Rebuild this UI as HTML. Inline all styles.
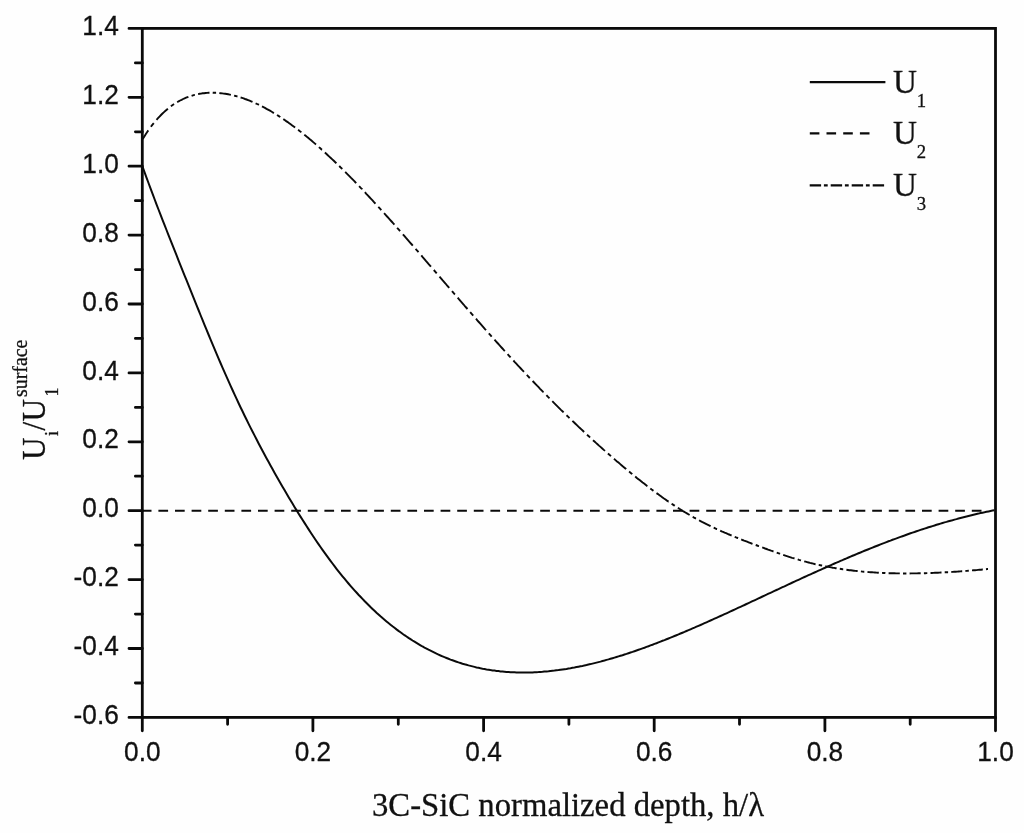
<!DOCTYPE html>
<html lang="en">
<head>
<meta charset="utf-8">
<title>3C-SiC normalized depth</title>
<style>
html,body{margin:0;padding:0;background:#fefefe;}
body{width:1024px;height:833px;overflow:hidden;}
svg{display:block;filter:blur(0.45px);}
.tick{font-family:"Liberation Sans",Arial,sans-serif;font-size:28.2px;fill:#111;stroke:#111;stroke-width:0.3px;}
.ser{font-family:"Liberation Serif","Times New Roman",serif;fill:#111;stroke:#111;stroke-width:0.3px;}
.ax{stroke:#0a0a0a;fill:none;}
</style>
</head>
<body>
<svg width="1024" height="833" viewBox="0 0 1024 833">
<rect width="1024" height="833" fill="#fefefe"/>
<path class="ax" stroke-width="2" d="M142.5 166.5 L144.5 172.1 L146.5 177.6 L148.5 183.0 L150.5 188.4 L152.5 193.7 L154.5 199.0 L156.5 204.3 L158.5 209.5 L160.5 214.6 L162.5 219.8 L164.5 224.9 L166.5 230.0 L168.5 235.1 L170.5 240.1 L172.5 245.2 L174.5 250.2 L176.5 255.2 L178.5 260.3 L180.5 265.3 L182.5 270.3 L184.5 275.3 L186.5 280.2 L188.5 285.2 L190.5 290.2 L192.5 295.2 L194.5 300.1 L196.5 305.1 L198.5 310.0 L200.5 315.0 L202.5 319.9 L204.5 324.8 L206.5 329.7 L208.5 334.5 L210.5 339.3 L212.5 344.1 L214.5 348.9 L216.5 353.6 L218.5 358.3 L220.5 363.0 L222.5 367.6 L224.5 372.2 L226.5 376.7 L228.5 381.2 L230.5 385.6 L232.5 390.0 L234.5 394.4 L236.5 398.7 L238.5 403.0 L240.5 407.2 L242.5 411.3 L244.5 415.5 L246.5 419.5 L248.5 423.6 L250.5 427.6 L252.5 431.5 L254.5 435.4 L256.5 439.3 L258.5 443.2 L260.5 447.0 L262.5 450.7 L264.5 454.5 L266.5 458.2 L268.5 461.8 L270.5 465.5 L272.5 469.1 L274.5 472.7 L276.5 476.2 L278.5 479.7 L280.5 483.2 L282.5 486.7 L284.5 490.1 L286.5 493.5 L288.5 496.9 L290.5 500.3 L292.5 503.6 L294.5 506.9 L296.5 510.1 L298.5 513.4 L300.5 516.6 L302.5 519.8 L304.5 522.9 L306.5 526.0 L308.5 529.1 L310.5 532.2 L312.5 535.2 L314.5 538.2 L316.5 541.2 L318.5 544.1 L320.5 547.0 L322.5 549.8 L324.5 552.6 L326.5 555.4 L328.5 558.2 L330.5 560.9 L332.5 563.5 L334.5 566.2 L336.5 568.8 L338.5 571.3 L340.5 573.8 L342.5 576.3 L344.5 578.7 L346.5 581.1 L348.5 583.5 L350.5 585.8 L352.5 588.1 L354.5 590.3 L356.5 592.5 L358.5 594.7 L360.5 596.8 L362.5 598.9 L364.5 601.0 L366.5 603.0 L368.5 605.0 L370.5 607.0 L372.5 608.9 L374.5 610.8 L376.5 612.7 L378.5 614.5 L380.5 616.3 L382.5 618.0 L384.5 619.7 L386.5 621.4 L388.5 623.1 L390.5 624.7 L392.5 626.3 L394.5 627.8 L396.5 629.4 L398.5 630.9 L400.5 632.3 L402.5 633.8 L404.5 635.2 L406.5 636.5 L408.5 637.9 L410.5 639.2 L412.5 640.5 L414.5 641.7 L416.5 642.9 L418.5 644.1 L420.5 645.3 L422.5 646.5 L424.5 647.6 L426.5 648.6 L428.5 649.7 L430.5 650.7 L432.5 651.7 L434.5 652.7 L436.5 653.7 L438.5 654.6 L440.5 655.5 L442.5 656.3 L444.5 657.2 L446.5 658.0 L448.5 658.8 L450.5 659.6 L452.5 660.3 L454.5 661.0 L456.5 661.7 L458.5 662.4 L460.5 663.0 L462.5 663.7 L464.5 664.3 L466.5 664.8 L468.5 665.4 L470.5 665.9 L472.5 666.4 L474.5 666.9 L476.5 667.4 L478.5 667.8 L480.5 668.3 L482.5 668.7 L484.5 669.0 L486.5 669.4 L488.5 669.7 L490.5 670.1 L492.5 670.4 L494.5 670.6 L496.5 670.9 L498.5 671.1 L500.5 671.4 L502.5 671.5 L504.5 671.7 L506.5 671.9 L508.5 672.0 L510.5 672.2 L512.5 672.3 L514.5 672.3 L516.5 672.4 L518.5 672.5 L520.5 672.5 L522.5 672.5 L524.5 672.5 L526.5 672.5 L528.5 672.5 L530.5 672.4 L532.5 672.4 L534.5 672.3 L536.5 672.2 L538.5 672.1 L540.5 671.9 L542.5 671.8 L544.5 671.6 L546.5 671.4 L548.5 671.3 L550.5 671.0 L552.5 670.8 L554.5 670.6 L556.5 670.3 L558.5 670.1 L560.5 669.8 L562.5 669.5 L564.5 669.2 L566.5 668.9 L568.5 668.5 L570.5 668.2 L572.5 667.8 L574.5 667.5 L576.5 667.1 L578.5 666.7 L580.5 666.3 L582.5 665.9 L584.5 665.4 L586.5 665.0 L588.5 664.5 L590.5 664.1 L592.5 663.6 L594.5 663.1 L596.5 662.6 L598.5 662.1 L600.5 661.6 L602.5 661.0 L604.5 660.5 L606.5 659.9 L608.5 659.4 L610.5 658.8 L612.5 658.2 L614.5 657.6 L616.5 657.0 L618.5 656.4 L620.5 655.8 L622.5 655.2 L624.5 654.5 L626.5 653.9 L628.5 653.2 L630.5 652.5 L632.5 651.9 L634.5 651.2 L636.5 650.5 L638.5 649.8 L640.5 649.1 L642.5 648.4 L644.5 647.7 L646.5 646.9 L648.5 646.2 L650.5 645.4 L652.5 644.7 L654.5 643.9 L656.5 643.2 L658.5 642.4 L660.5 641.6 L662.5 640.8 L664.5 640.1 L666.5 639.3 L668.5 638.5 L670.5 637.7 L672.5 636.8 L674.5 636.0 L676.5 635.2 L678.5 634.4 L680.5 633.5 L682.5 632.7 L684.5 631.9 L686.5 631.0 L688.5 630.2 L690.5 629.3 L692.5 628.4 L694.5 627.6 L696.5 626.7 L698.5 625.8 L700.5 625.0 L702.5 624.1 L704.5 623.2 L706.5 622.3 L708.5 621.4 L710.5 620.5 L712.5 619.6 L714.5 618.7 L716.5 617.8 L718.5 616.9 L720.5 616.0 L722.5 615.1 L724.5 614.2 L726.5 613.3 L728.5 612.4 L730.5 611.4 L732.5 610.5 L734.5 609.6 L736.5 608.7 L738.5 607.7 L740.5 606.8 L742.5 605.9 L744.5 605.0 L746.5 604.0 L748.5 603.1 L750.5 602.2 L752.5 601.2 L754.5 600.3 L756.5 599.4 L758.5 598.4 L760.5 597.5 L762.5 596.5 L764.5 595.6 L766.5 594.7 L768.5 593.7 L770.5 592.8 L772.5 591.9 L774.5 590.9 L776.5 590.0 L778.5 589.1 L780.5 588.1 L782.5 587.2 L784.5 586.3 L786.5 585.3 L788.5 584.4 L790.5 583.5 L792.5 582.5 L794.5 581.6 L796.5 580.7 L798.5 579.8 L800.5 578.9 L802.5 577.9 L804.5 577.0 L806.5 576.1 L808.5 575.2 L810.5 574.3 L812.5 573.4 L814.5 572.5 L816.5 571.6 L818.5 570.7 L820.5 569.8 L822.5 568.9 L824.5 568.0 L826.5 567.1 L828.5 566.2 L830.5 565.3 L832.5 564.4 L834.5 563.5 L836.5 562.7 L838.5 561.8 L840.5 560.9 L842.5 560.1 L844.5 559.2 L846.5 558.4 L848.5 557.5 L850.5 556.6 L852.5 555.8 L854.5 555.0 L856.5 554.1 L858.5 553.3 L860.5 552.5 L862.5 551.6 L864.5 550.8 L866.5 550.0 L868.5 549.2 L870.5 548.4 L872.5 547.6 L874.5 546.8 L876.5 546.0 L878.5 545.2 L880.5 544.4 L882.5 543.6 L884.5 542.9 L886.5 542.1 L888.5 541.3 L890.5 540.6 L892.5 539.8 L894.5 539.1 L896.5 538.4 L898.5 537.6 L900.5 536.9 L902.5 536.2 L904.5 535.5 L906.5 534.7 L908.5 534.0 L910.5 533.3 L912.5 532.6 L914.5 532.0 L916.5 531.3 L918.5 530.6 L920.5 529.9 L922.5 529.3 L924.5 528.6 L926.5 528.0 L928.5 527.3 L930.5 526.7 L932.5 526.1 L934.5 525.5 L936.5 524.8 L938.5 524.2 L940.5 523.6 L942.5 523.0 L944.5 522.4 L946.5 521.9 L948.5 521.3 L950.5 520.7 L952.5 520.2 L954.5 519.6 L956.5 519.1 L958.5 518.5 L960.5 518.0 L962.5 517.5 L964.5 517.0 L966.5 516.5 L968.5 516.0 L970.5 515.5 L972.5 515.0 L974.5 514.5 L976.5 514.0 L978.5 513.6 L980.5 513.1 L982.5 512.7 L984.5 512.3 L986.5 511.8 L988.5 511.4 L990.5 511.0 L992.5 510.6 L994.5 510.2"/>
<path class="ax" stroke-width="1.9" stroke-dasharray="9.7 6.9" d="M141.8 510.7 H982.0"/>
<path class="ax" stroke-width="1.9" d="M142.7 139.1 L144.2 136.7 L145.7 134.3 L147.2 132.0 L148.3 130.4 M150.9 126.8 L152.3 124.9 L153.8 123.1 M156.5 119.8 L158.0 118.2 L159.5 116.6 L161.0 115.0 L162.5 113.5 L164.0 112.1 L165.5 110.8 L167.0 109.5 L167.9 108.7 M170.9 106.3 L172.3 105.3 L173.8 104.3 L174.1 104.1 M177.2 102.2 L178.6 101.3 L180.1 100.5 L181.6 99.8 L183.1 99.0 L184.6 98.3 L186.1 97.7 L187.6 97.1 L188.4 96.8 M191.6 95.8 L193.0 95.3 L194.5 94.9 L194.9 94.8 M198.1 94.1 L199.6 93.8 L201.1 93.6 L202.6 93.3 L204.1 93.2 L205.6 93.0 L207.1 92.9 L208.6 92.8 L209.5 92.8 M212.7 92.7 L214.1 92.8 L215.6 92.8 L216.1 92.8 M219.3 93.1 L220.7 93.2 L222.2 93.4 L223.7 93.6 L225.2 93.8 L226.7 94.0 L228.2 94.3 L229.7 94.6 L230.9 94.9 M234.1 95.6 L235.6 96.0 L237.1 96.4 L237.5 96.5 M240.6 97.5 L242.1 97.9 L243.6 98.4 L245.1 99.0 L246.6 99.5 L248.1 100.1 L249.6 100.7 L251.1 101.3 L252.5 101.9 M255.6 103.3 L257.1 104.0 L258.6 104.7 L258.9 104.9 M262.0 106.4 L263.5 107.2 L265.0 107.9 L266.5 108.8 L268.0 109.6 L269.5 110.4 L271.0 111.3 L272.5 112.2 L273.9 113.1 M277.0 115.0 L278.5 115.9 L280.0 116.9 L280.2 117.1 M283.3 119.1 L284.7 120.0 L286.2 121.1 L287.7 122.1 L289.2 123.2 L290.7 124.3 L292.2 125.4 L293.7 126.5 L295.1 127.6 M298.1 129.8 L299.6 131.0 L301.1 132.1 L301.3 132.3 M304.3 134.7 L305.7 135.8 L307.2 137.1 L308.7 138.3 L310.2 139.6 L311.7 140.8 L313.2 142.1 L314.7 143.4 L316.0 144.5 M318.9 147.1 L320.3 148.3 L321.8 149.7 L322.0 149.8 M324.9 152.5 L326.3 153.8 L327.8 155.2 L329.3 156.6 L330.8 158.0 L332.3 159.4 L333.8 160.8 L335.3 162.2 L336.4 163.2 M339.2 166.0 L340.7 167.5 L342.2 168.9 L342.3 169.0 M345.2 171.9 L346.6 173.3 L348.1 174.8 L349.6 176.3 L351.1 177.9 L352.6 179.4 L354.1 180.9 L355.6 182.5 L356.2 183.1 M359.1 186.1 L360.5 187.6 L362.0 189.1 L362.1 189.3 M364.9 192.2 L366.3 193.8 L367.8 195.4 L369.3 197.0 L370.8 198.6 L372.3 200.2 L373.8 201.9 L375.3 203.5 L375.5 203.7 M378.3 206.8 L379.8 208.4 L381.3 210.1 M384.1 213.2 L385.6 214.8 L387.1 216.5 L388.6 218.1 L390.1 219.8 L391.6 221.5 L393.1 223.2 L394.4 224.6 M397.1 227.8 L398.6 229.4 L400.1 231.1 L400.1 231.1 M402.9 234.3 L404.3 235.9 L405.8 237.7 L407.3 239.4 L408.8 241.1 L410.3 242.8 L411.8 244.5 L412.8 245.6 M415.6 248.8 L417.0 250.5 L418.5 252.2 L418.5 252.2 M421.3 255.4 L422.7 257.1 L424.2 258.8 L425.7 260.6 L427.2 262.3 L428.7 264.1 L430.2 265.8 L431.0 266.7 M433.8 270.0 L435.2 271.6 L436.7 273.4 L436.7 273.4 M439.5 276.6 L441.0 278.3 L442.5 280.1 L444.0 281.8 L445.5 283.5 L447.0 285.3 L448.5 287.0 L449.2 287.9 M452.0 291.1 L453.3 292.7 L454.8 294.4 L454.9 294.5 M457.7 297.7 L459.1 299.4 L460.6 301.1 L462.1 302.8 L463.6 304.5 L465.1 306.3 L466.6 308.0 L467.5 309.0 M470.2 312.2 L471.7 313.9 L473.2 315.6 M476.0 318.7 L477.3 320.3 L478.8 322.0 L480.3 323.7 L481.8 325.4 L483.3 327.1 L484.8 328.8 L486.0 330.1 M488.8 333.3 L490.2 334.9 L491.7 336.6 L491.7 336.6 M494.5 339.7 L496.0 341.3 L497.5 343.0 L499.0 344.7 L500.5 346.3 L502.0 348.0 L503.5 349.7 L504.8 351.1 M507.6 354.2 L509.1 355.8 L510.6 357.4 M513.4 360.5 L514.8 362.1 L516.3 363.7 L517.8 365.3 L519.3 366.9 L520.8 368.5 L522.3 370.1 L523.8 371.7 L524.0 371.9 M526.8 374.9 L528.2 376.4 L529.7 378.0 L529.8 378.1 M532.6 381.0 L534.1 382.5 L535.6 384.1 L537.1 385.7 L538.6 387.2 L540.1 388.8 L541.6 390.3 L543.1 391.9 L543.6 392.3 M546.4 395.2 L547.8 396.7 L549.3 398.2 L549.4 398.3 M552.3 401.2 L553.7 402.6 L555.2 404.1 L556.7 405.6 L558.2 407.1 L559.7 408.6 L561.2 410.1 L562.7 411.5 L563.6 412.4 M566.5 415.2 L568.0 416.6 L569.5 418.1 L569.5 418.1 M572.4 420.9 L573.9 422.3 L575.4 423.7 L576.9 425.1 L578.4 426.6 L579.9 428.0 L581.4 429.4 L582.9 430.8 L584.1 432.0 M587.0 434.7 L588.5 436.0 L590.0 437.4 L590.1 437.5 M593.0 440.2 L594.5 441.5 L596.0 442.9 L597.5 444.2 L599.0 445.6 L600.5 446.9 L602.0 448.2 L603.5 449.6 L605.0 450.9 L605.0 450.9 M607.9 453.5 L609.4 454.8 L610.9 456.1 L611.0 456.2 M614.0 458.8 L615.5 460.1 L617.0 461.4 L618.5 462.6 L620.0 463.9 L621.5 465.2 L623.0 466.5 L624.5 467.7 L626.0 469.0 L626.1 469.1 M629.1 471.6 L630.5 472.7 L632.0 473.9 L632.2 474.1 M635.2 476.5 L636.6 477.7 L638.1 478.9 L639.6 480.1 L641.1 481.3 L642.6 482.5 L644.1 483.6 L645.6 484.8 L647.1 486.0 L647.4 486.2 M650.3 488.4 L651.7 489.5 L653.2 490.6 L653.5 490.8 M656.5 493.1 L658.0 494.1 L659.5 495.2 L661.0 496.3 L662.5 497.4 L664.0 498.5 L665.5 499.5 L667.0 500.6 L668.5 501.6 L668.6 501.6 M671.6 503.7 L673.0 504.6 L674.5 505.6 L674.8 505.8 M677.9 507.8 L679.4 508.8 L680.9 509.7 L682.4 510.7 L683.9 511.6 L685.4 512.5 L686.9 513.4 L688.4 514.3 L689.6 515.0 M692.7 516.8 L694.1 517.6 L695.6 518.4 L696.0 518.6 M699.1 520.3 L700.5 521.1 L702.0 521.9 L703.5 522.6 L705.0 523.4 L706.5 524.2 L708.0 524.9 L709.5 525.6 L710.6 526.2 M713.7 527.7 L715.2 528.4 L716.7 529.1 L717.1 529.2 M720.2 530.6 L721.6 531.3 L723.1 531.9 L724.6 532.6 L726.1 533.2 L727.6 533.9 L729.1 534.5 L730.6 535.1 L731.6 535.5 M734.7 536.8 L736.1 537.4 L737.6 538.0 L738.1 538.2 M741.2 539.4 L742.6 540.0 L744.1 540.6 L745.6 541.1 L747.1 541.7 L748.6 542.3 L750.1 542.9 L751.6 543.5 L752.5 543.8 M755.7 545.0 L757.1 545.5 L758.6 546.1 L759.0 546.2 M762.2 547.4 L763.6 547.9 L765.1 548.5 L766.6 549.0 L768.1 549.6 L769.6 550.1 L771.1 550.7 L772.6 551.2 L773.5 551.5 M776.7 552.6 L778.1 553.1 L779.6 553.6 L780.0 553.8 M783.2 554.8 L784.6 555.3 L786.1 555.8 L787.6 556.3 L789.1 556.8 L790.6 557.3 L792.1 557.8 L793.6 558.2 L794.5 558.5 M797.7 559.4 L799.1 559.9 L800.6 560.3 L801.0 560.4 M804.2 561.3 L805.6 561.7 L807.1 562.1 L808.6 562.5 L810.1 562.9 L811.6 563.2 L813.1 563.6 L814.6 564.0 L815.6 564.2 M818.7 564.9 L820.2 565.2 L821.7 565.5 L822.1 565.6 M825.3 566.3 L826.7 566.6 L828.2 566.8 L829.7 567.1 L831.2 567.4 L832.7 567.7 L834.2 567.9 L835.7 568.2 L836.6 568.3 M839.8 568.8 L841.2 569.0 L842.7 569.3 L843.2 569.3 M846.4 569.8 L847.9 570.0 L849.4 570.2 L850.9 570.3 L852.4 570.5 L853.9 570.7 L855.4 570.9 L856.9 571.0 L857.7 571.1 M860.9 571.4 L862.4 571.6 L863.9 571.7 L864.3 571.7 M867.5 572.0 L869.0 572.1 L870.5 572.2 L872.0 572.3 L873.5 572.4 L875.0 572.5 L876.5 572.6 L878.0 572.7 L878.8 572.8 M882.0 572.9 L883.4 573.0 L884.9 573.0 L885.4 573.1 M888.6 573.2 L890.0 573.2 L891.5 573.3 L893.0 573.3 L894.5 573.3 L896.0 573.4 L897.5 573.4 L899.0 573.4 L899.8 573.4 M903.0 573.5 L904.4 573.5 L905.9 573.5 L906.4 573.5 M909.6 573.5 L911.0 573.4 L912.5 573.4 L914.0 573.4 L915.5 573.4 L917.0 573.4 L918.5 573.3 L920.0 573.3 L920.7 573.3 M923.9 573.2 L925.4 573.2 L926.9 573.1 L927.3 573.1 M930.5 573.0 L931.9 573.0 L933.4 572.9 L934.9 572.8 L936.4 572.8 L937.9 572.7 L939.4 572.6 L940.9 572.5 L941.5 572.5 M944.7 572.3 L946.1 572.3 L947.6 572.2 L948.1 572.2 M951.3 572.0 L952.7 571.9 L954.2 571.8 L955.7 571.7 L957.2 571.6 L958.7 571.5 L960.2 571.4 L961.7 571.2 L962.2 571.2 M965.4 571.0 L966.9 570.9 L968.4 570.7 L968.8 570.7 M972.0 570.4 L973.5 570.3 L975.0 570.2 L976.5 570.1 L978.0 569.9 L979.5 569.8 L981.0 569.7 L982.5 569.5 L982.8 569.5 M986.0 569.2 L987.5 569.0 L988.0 569.0"/>
<rect class="ax" stroke-width="2.8" x="142.3" y="28.4" width="853.2" height="689.0"/>
<path class="ax" stroke-width="2.8" stroke-linecap="round" d="M129.0 28.4 H142.3 M135.4 62.9 H142.3 M129.0 97.3 H142.3 M135.4 131.8 H142.3 M129.0 166.2 H142.3 M135.4 200.7 H142.3 M129.0 235.1 H142.3 M135.4 269.6 H142.3 M129.0 304.0 H142.3 M135.4 338.4 H142.3 M129.0 372.9 H142.3 M135.4 407.4 H142.3 M129.0 441.8 H142.3 M135.4 476.2 H142.3 M129.0 510.7 H142.3 M135.4 545.1 H142.3 M129.0 579.6 H142.3 M135.4 614.1 H142.3 M129.0 648.5 H142.3 M135.4 683.0 H142.3 M129.0 717.4 H142.3"/>
<path class="ax" stroke-width="2.8" stroke-linecap="round" d="M142.3 717.4 V730.8 M227.6 717.4 V724.3 M312.9 717.4 V730.8 M398.3 717.4 V724.3 M483.6 717.4 V730.8 M568.9 717.4 V724.3 M654.2 717.4 V730.8 M739.5 717.4 V724.3 M824.9 717.4 V730.8 M910.2 717.4 V724.3 M995.5 717.4 V730.8"/>
<text class="tick" text-anchor="end" transform="translate(118.9 35.0) scale(0.932 1)">1.4</text>
<text class="tick" text-anchor="end" transform="translate(118.9 103.9) scale(0.932 1)">1.2</text>
<text class="tick" text-anchor="end" transform="translate(118.9 172.8) scale(0.932 1)">1.0</text>
<text class="tick" text-anchor="end" transform="translate(118.9 241.7) scale(0.932 1)">0.8</text>
<text class="tick" text-anchor="end" transform="translate(118.9 310.6) scale(0.932 1)">0.6</text>
<text class="tick" text-anchor="end" transform="translate(118.9 379.5) scale(0.932 1)">0.4</text>
<text class="tick" text-anchor="end" transform="translate(118.9 448.4) scale(0.932 1)">0.2</text>
<text class="tick" text-anchor="end" transform="translate(118.9 517.3) scale(0.932 1)">0.0</text>
<text class="tick" text-anchor="end" transform="translate(118.9 586.2) scale(0.932 1)">-0.2</text>
<text class="tick" text-anchor="end" transform="translate(118.9 655.1) scale(0.932 1)">-0.4</text>
<text class="tick" text-anchor="end" transform="translate(118.9 724.0) scale(0.932 1)">-0.6</text>
<text class="tick" text-anchor="middle" transform="translate(142.3 761.4) scale(0.932 1)">0.0</text>
<text class="tick" text-anchor="middle" transform="translate(312.9 761.4) scale(0.932 1)">0.2</text>
<text class="tick" text-anchor="middle" transform="translate(483.6 761.4) scale(0.932 1)">0.4</text>
<text class="tick" text-anchor="middle" transform="translate(654.2 761.4) scale(0.932 1)">0.6</text>
<text class="tick" text-anchor="middle" transform="translate(824.9 761.4) scale(0.932 1)">0.8</text>
<text class="tick" text-anchor="middle" transform="translate(995.5 761.4) scale(0.932 1)">1.0</text>
<text class="ser" font-size="34.6px" text-anchor="middle" transform="translate(568 815.5) scale(0.946 1)">3C-SiC normalized depth, h/λ</text>
<text class="ser" font-size="33.7px" text-anchor="start" transform="translate(45.2 460.0) rotate(-90) scale(0.925 1)">U</text>
<text class="ser" font-size="19.5px" text-anchor="middle" transform="translate(57.5 433.5) rotate(-90) scale(0.925 1)">i</text>
<text class="ser" font-size="33.7px" text-anchor="start" transform="translate(45.2 430.6) rotate(-90) scale(0.925 1)">/</text>
<text class="ser" font-size="33.7px" text-anchor="start" transform="translate(45.2 421.6) rotate(-90) scale(0.925 1)">U</text>
<text class="ser" font-size="19.5px" text-anchor="middle" transform="translate(57.5 392.1) rotate(-90) scale(0.925 1)">1</text>
<text class="ser" font-size="20.6px" text-anchor="start" transform="translate(27.0 396.9) rotate(-90) scale(0.962 1)">surface</text>
<path class="ax" stroke-width="2.2" d="M809.8 82.2 H885.4"/>
<text class="ser" font-size="34.2px" transform="translate(892.9 93.1) scale(0.97 1)">U<tspan font-size="19.3px" dy="13.45">1</tspan></text>
<path class="ax" stroke-width="2.2" stroke-dasharray="9.6 7.1" d="M809.8 133.3 H870"/>
<text class="ser" font-size="34.2px" transform="translate(892.9 144.2) scale(0.97 1)">U<tspan font-size="19.3px" dy="13.45">2</tspan></text>
<path class="ax" stroke-width="2.4" stroke-dasharray="11.4 2.8 3.8 3" d="M809.7 185.4 H884.1"/>
<text class="ser" font-size="34.2px" transform="translate(892.9 196.3) scale(0.97 1)">U<tspan font-size="19.3px" dy="13.45">3</tspan></text>
</svg>
</body>
</html>
